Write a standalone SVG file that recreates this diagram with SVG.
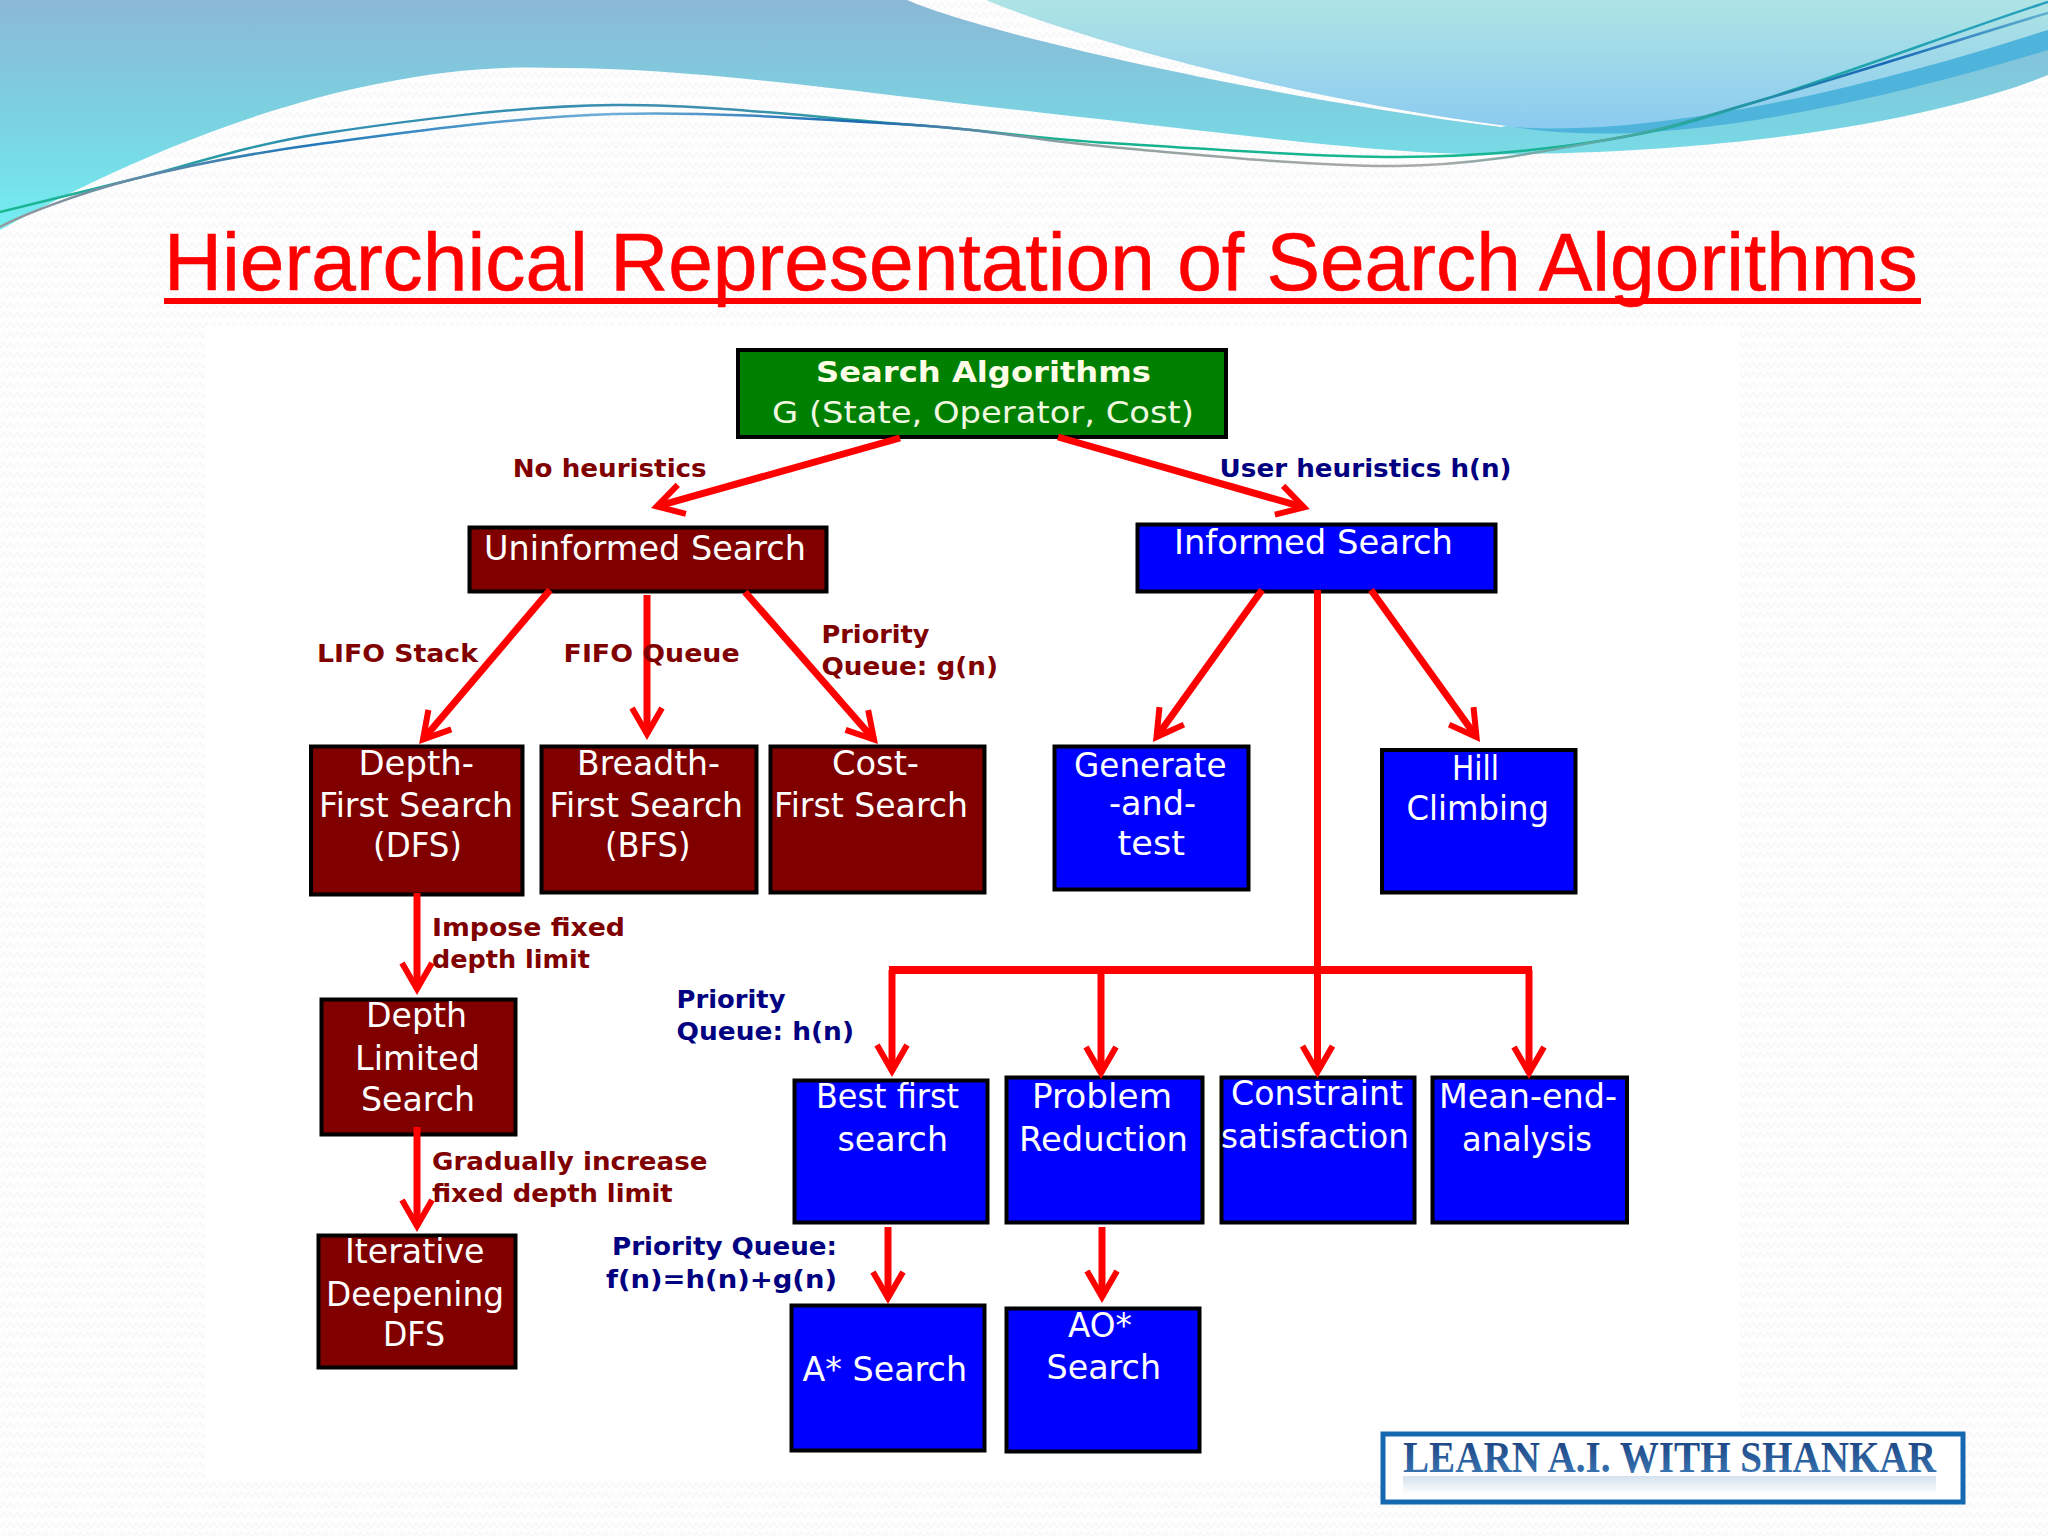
<svg xmlns="http://www.w3.org/2000/svg" width="2048" height="1536" viewBox="0 0 2048 1536">
<style>
.n{font-family:"DejaVu Sans","Liberation Sans",sans-serif;font-size:33px;fill:#fff;stroke:none}
.b{font-weight:bold;font-size:29px;fill:#fdfde8}
.g{font-size:31px;fill:#f0f8e0}
.l{font-family:"DejaVu Sans","Liberation Sans",sans-serif;font-weight:bold;font-size:25px;stroke:none}
.m{fill:#800000}.v{fill:#000080}
.box{stroke:#000;stroke-width:4}
.red{fill:#800000}.blue{fill:#0000ff}.grn{fill:#008000}
.c{fill:none;stroke:#ff0000;stroke-width:7;marker-end:url(#ah)}
.c2{fill:none;stroke:#ff0000;stroke-width:8}
</style>
<defs>
<marker id="ah" markerUnits="userSpaceOnUse" markerWidth="40" markerHeight="44" refX="30" refY="20" orient="auto" overflow="visible"><path d="M4,5 L30,20 L4,35" fill="none" stroke="#ff0000" stroke-width="6"/></marker>
<pattern id="tex" width="14" height="10" patternUnits="userSpaceOnUse"><path d="M0,8 L3.500,2 L7,8 L10.500,2 L14,8" fill="none" stroke="#f3f3f6" stroke-width="1"/></pattern>
<linearGradient id="gl" x1="0" y1="0" x2="0" y2="1"><stop offset="0" stop-color="#8bb8d6"/><stop offset="0.55" stop-color="#7ad4e2"/><stop offset="1" stop-color="#72eef2"/></linearGradient>
<linearGradient id="gt" x1="0" y1="0" x2="0" y2="1"><stop offset="0" stop-color="#aee4e4"/><stop offset="1" stop-color="#8ccbf0"/></linearGradient>
<linearGradient id="la" gradientUnits="userSpaceOnUse" x1="0" y1="0" x2="2048" y2="0"><stop offset="0" stop-color="#18b890"/><stop offset="0.15" stop-color="#2f8fb0"/><stop offset="0.35" stop-color="#3f8fb0"/><stop offset="0.5" stop-color="#18b090"/><stop offset="0.7" stop-color="#18b890"/><stop offset="0.85" stop-color="#18a8a0"/><stop offset="1" stop-color="#2a9fc0"/></linearGradient>
<linearGradient id="lb" gradientUnits="userSpaceOnUse" x1="0" y1="0" x2="2048" y2="0"><stop offset="0" stop-color="#999"/><stop offset="0.15" stop-color="#1f78b8"/><stop offset="0.3" stop-color="#70b0d8"/><stop offset="0.42" stop-color="#1868b0"/><stop offset="0.52" stop-color="#90a0a0"/><stop offset="0.7" stop-color="#aaa"/><stop offset="0.82" stop-color="#30a8a0"/><stop offset="0.92" stop-color="#1868b8"/><stop offset="1" stop-color="#60b0d0"/></linearGradient>
<linearGradient id="logo" x1="0" y1="0" x2="0" y2="1"><stop offset="0" stop-color="#173a78"/><stop offset="1" stop-color="#3f7fbc"/></linearGradient>
<linearGradient id="refl" x1="0" y1="0" x2="0" y2="1"><stop offset="0" stop-color="#6f9cc8" stop-opacity="0.3"/><stop offset="1" stop-color="#6f9cc8" stop-opacity="0"/></linearGradient>
</defs>
<rect width="2048" height="1536" fill="#fefefe"/>
<rect width="2048" height="1536" fill="url(#tex)"/>
<rect x="205" y="326" width="1535" height="1152" fill="#fff"/>
<g id="banner">
<path d="M0,0 L907,0 C980,32 1250,95 1501,127 L2048,30 L2048,75 C1975,105 1800,150 1527,154 C1400,158 1250,135 1044,113 C880,95 700,68 561,68 C380,60 180,130 0,230 Z" fill="url(#gl)"/>
<path d="M986,0 C1080,40 1300,100 1514,127 C1620,135 1800,110 2048,30 L2048,0 Z" fill="url(#gt)"/>
<path d="M1514,127 C1620,135 1800,110 2048,30 L2048,50 C1850,110 1650,150 1514,127 Z" fill="#4fb4dc"/>
<path d="M0,212 C22,207 76,193 130,180 C184,167 245,145 326,133 C407,121 516,106 614,105 C712,104 831,119 914,125 C997,131 1030,138 1110,143 C1190,148 1314,157 1397,157 C1480,157 1545,150 1606,140 C1667,130 1688,123 1762,100 C1836,77 1990,20 2048,2" fill="none" stroke="url(#la)" stroke-width="2.500"/>
<path d="M0,227 C20,216 76,194 130,180 C184,166 245,154 326,143 C407,132 516,117 614,114 C712,111 831,120 914,125 C997,130 1030,140 1110,147 C1190,154 1314,167 1397,166 C1480,165 1545,151 1606,140 C1667,129 1688,121 1762,100 C1836,79 1990,30 2048,13" fill="none" stroke="url(#lb)" stroke-width="2.500"/>
</g>
<g id="title">
<text x="164" y="290" font-family="'Liberation Sans',Arial,sans-serif" font-size="81" fill="#ff0000" stroke="#ff0000" stroke-width="0.6" textLength="1754" lengthAdjust="spacingAndGlyphs">Hierarchical Representation of Search Algorithms</text>
<rect x="164" y="298" width="1757" height="6" fill="#ff0000"/>
</g>
<g id="node-root"><rect class="box grn" x="738" y="350" width="488" height="87"/>
<text class="n b" x="816" y="382" textLength="335" lengthAdjust="spacingAndGlyphs">Search Algorithms</text>
<text class="n g" x="772" y="423" textLength="422" lengthAdjust="spacingAndGlyphs">G (State, Operator, Cost)</text></g>
<g id="node-uninformed"><rect class="box red" x="469.500" y="527.500" width="357" height="64"/>
<text class="n" x="484" y="560" textLength="322" lengthAdjust="spacingAndGlyphs">Uninformed Search</text></g>
<g id="node-informed"><rect class="box blue" x="1137.500" y="524.500" width="358" height="67"/>
<text class="n" x="1174" y="554" textLength="279" lengthAdjust="spacingAndGlyphs">Informed Search</text></g>
<g id="node-dfs"><rect class="box red" x="311" y="746.500" width="211.500" height="148"/>
<text class="n" x="358.500" y="775" textLength="115.500" lengthAdjust="spacingAndGlyphs">Depth-</text>
<text class="n" x="319" y="817" textLength="194" lengthAdjust="spacingAndGlyphs">First Search</text>
<text class="n" x="373" y="857" textLength="89" lengthAdjust="spacingAndGlyphs">(DFS)</text></g>
<g id="node-bfs"><rect class="box red" x="541.500" y="746.500" width="215" height="146"/>
<text class="n" x="577" y="775" textLength="143" lengthAdjust="spacingAndGlyphs">Breadth-</text>
<text class="n" x="549.500" y="817" textLength="193.500" lengthAdjust="spacingAndGlyphs">First Search</text>
<text class="n" x="605" y="857" textLength="85.500" lengthAdjust="spacingAndGlyphs">(BFS)</text></g>
<g id="node-cost"><rect class="box red" x="770.500" y="746.500" width="214" height="146"/>
<text class="n" x="832" y="775" textLength="87" lengthAdjust="spacingAndGlyphs">Cost-</text>
<text class="n" x="774" y="817" textLength="194" lengthAdjust="spacingAndGlyphs">First Search</text></g>
<g id="node-generate"><rect class="box blue" x="1054.500" y="746.500" width="194" height="143"/>
<text class="n" x="1074" y="777" textLength="152.500" lengthAdjust="spacingAndGlyphs">Generate</text>
<text class="n" x="1109" y="815" textLength="87" lengthAdjust="spacingAndGlyphs">-and-</text>
<text class="n" x="1117.500" y="855" textLength="67.500" lengthAdjust="spacingAndGlyphs">test</text></g>
<g id="node-hill"><rect class="box blue" x="1382" y="750" width="193.500" height="142.500"/>
<text class="n" x="1452" y="780" textLength="47" lengthAdjust="spacingAndGlyphs">Hill</text>
<text class="n" x="1406.500" y="820" textLength="142.500" lengthAdjust="spacingAndGlyphs">Climbing</text></g>
<g id="node-dls"><rect class="box red" x="321.500" y="999.500" width="194" height="135"/>
<text class="n" x="366" y="1027" textLength="101" lengthAdjust="spacingAndGlyphs">Depth</text>
<text class="n" x="355" y="1070" textLength="125" lengthAdjust="spacingAndGlyphs">Limited</text>
<text class="n" x="361" y="1111" textLength="114" lengthAdjust="spacingAndGlyphs">Search</text></g>
<g id="node-iddfs"><rect class="box red" x="318.500" y="1235.500" width="197" height="132"/>
<text class="n" x="345" y="1263" textLength="139.500" lengthAdjust="spacingAndGlyphs">Iterative</text>
<text class="n" x="326" y="1306" textLength="178" lengthAdjust="spacingAndGlyphs">Deepening</text>
<text class="n" x="383" y="1346" textLength="62" lengthAdjust="spacingAndGlyphs">DFS</text></g>
<g id="node-best"><rect class="box blue" x="794.500" y="1080.500" width="193" height="142"/>
<text class="n" x="816" y="1108" textLength="143" lengthAdjust="spacingAndGlyphs">Best first</text>
<text class="n" x="837.500" y="1151" textLength="110.500" lengthAdjust="spacingAndGlyphs">search</text></g>
<g id="node-problem"><rect class="box blue" x="1006.500" y="1077.500" width="196" height="145"/>
<text class="n" x="1032" y="1108" textLength="140" lengthAdjust="spacingAndGlyphs">Problem</text>
<text class="n" x="1019" y="1150.500" textLength="169" lengthAdjust="spacingAndGlyphs">Reduction</text></g>
<g id="node-constraint"><rect class="box blue" x="1221.500" y="1077.500" width="193" height="145"/>
<text class="n" x="1231" y="1105" textLength="172" lengthAdjust="spacingAndGlyphs">Constraint</text>
<text class="n" x="1221" y="1148" textLength="188" lengthAdjust="spacingAndGlyphs">satisfaction</text></g>
<g id="node-mean"><rect class="box blue" x="1432.500" y="1077.500" width="194.500" height="145"/>
<text class="n" x="1439" y="1108" textLength="178" lengthAdjust="spacingAndGlyphs">Mean-end-</text>
<text class="n" x="1462" y="1150.500" textLength="130" lengthAdjust="spacingAndGlyphs">analysis</text></g>
<g id="node-astar"><rect class="box blue" x="791.500" y="1305.500" width="193" height="145"/>
<text class="n" x="802.500" y="1381" textLength="164.500" lengthAdjust="spacingAndGlyphs">A* Search</text></g>
<g id="node-aostar"><rect class="box blue" x="1006.500" y="1308.500" width="193" height="143"/>
<text class="n" x="1068" y="1337" textLength="64" lengthAdjust="spacingAndGlyphs">AO*</text>
<text class="n" x="1046.500" y="1379" textLength="114.500" lengthAdjust="spacingAndGlyphs">Search</text></g>
<g id="connectors">
<line class="c" x1="900" y1="438" x2="656.800" y2="506.400"/>
<line class="c" x1="1058" y1="437" x2="1304" y2="507.400"/>
<line class="c" x1="550" y1="590" x2="423" y2="739.400"/>
<line class="c" x1="647" y1="595" x2="647" y2="734"/>
<line class="c" x1="745" y1="592" x2="874" y2="739.500"/>
<line class="c" x1="1262" y1="590" x2="1156.500" y2="737"/>
<line class="c" x1="1371" y1="590" x2="1476.500" y2="737"/>
<line class="c" x1="1317.500" y1="590" x2="1317.500" y2="1072"/>
<line class="c2" x1="889" y1="970" x2="1532" y2="970"/>
<line class="c" x1="892" y1="970" x2="892" y2="1071"/>
<line class="c" x1="1101" y1="970" x2="1101" y2="1073"/>
<line class="c" x1="1529" y1="970" x2="1529" y2="1073"/>
<line class="c" x1="888" y1="1227" x2="888" y2="1298"/>
<line class="c" x1="1102" y1="1227" x2="1102" y2="1297"/>
<line class="c" x1="417" y1="893" x2="417" y2="989"/>
<line class="c" x1="417" y1="1127" x2="417" y2="1226"/>
</g>
<g id="labels">
<text class="l m" x="512.700" y="477" textLength="194" lengthAdjust="spacingAndGlyphs">No heuristics</text>
<text class="l v" x="1219.600" y="477" textLength="292" lengthAdjust="spacingAndGlyphs">User heuristics h(n)</text>
<text class="l m" x="317" y="662" textLength="161" lengthAdjust="spacingAndGlyphs">LIFO Stack</text>
<text class="l m" x="563.600" y="662" textLength="176" lengthAdjust="spacingAndGlyphs">FIFO Queue</text>
<text class="l m" x="821.500" y="643" textLength="108" lengthAdjust="spacingAndGlyphs">Priority</text>
<text class="l m" x="821.500" y="675" textLength="176.500" lengthAdjust="spacingAndGlyphs">Queue: g(n)</text>
<text class="l m" x="432" y="936" textLength="193" lengthAdjust="spacingAndGlyphs">Impose fixed</text>
<text class="l m" x="432" y="968" textLength="158" lengthAdjust="spacingAndGlyphs">depth limit</text>
<text class="l m" x="432" y="1170" textLength="275.500" lengthAdjust="spacingAndGlyphs">Gradually increase</text>
<text class="l m" x="432" y="1202" textLength="240.600" lengthAdjust="spacingAndGlyphs">fixed depth limit</text>
<text class="l v" x="676.500" y="1008" textLength="109" lengthAdjust="spacingAndGlyphs">Priority</text>
<text class="l v" x="676.500" y="1040" textLength="177.500" lengthAdjust="spacingAndGlyphs">Queue: h(n)</text>
<text class="l v" x="612" y="1255" textLength="225" lengthAdjust="spacingAndGlyphs">Priority Queue:</text>
<text class="l v" x="606" y="1287.500" textLength="231" lengthAdjust="spacingAndGlyphs">f(n)=h(n)+g(n)</text>
</g>
<g id="logo-box">
<rect x="1383" y="1434" width="580" height="68" fill="#fff" stroke="#1668b0" stroke-width="5"/>
<rect x="1403" y="1476" width="533" height="18" fill="url(#refl)"/>
<text x="1403" y="1472" font-family="'Liberation Serif',serif" font-weight="bold" font-size="44" fill="url(#logo)" textLength="533" lengthAdjust="spacingAndGlyphs">LEARN A.I. WITH SHANKAR</text>
</g>
</svg>
